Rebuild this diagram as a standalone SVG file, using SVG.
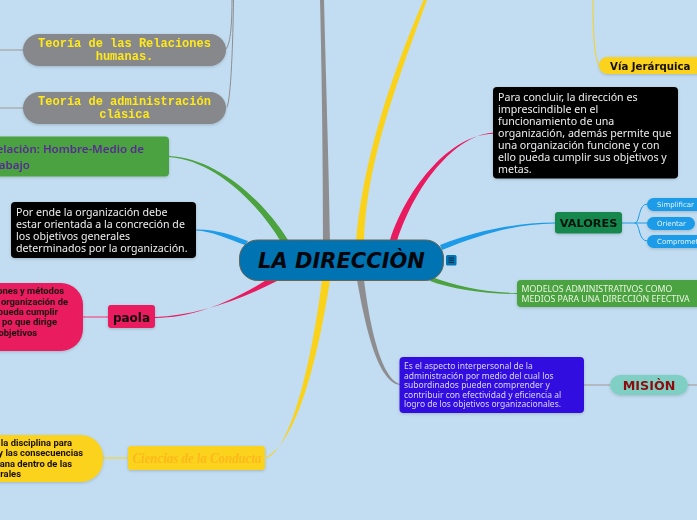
<svg xmlns="http://www.w3.org/2000/svg" width="697" height="520" viewBox="0 0 697 520">
<defs>
<filter id="sh" x="-10%" y="-20%" width="120%" height="150%"><feDropShadow dx="0" dy="1" stdDeviation="1.5" flood-color="#000" flood-opacity="0.18"/></filter>
</defs>
<style>
text{font-family:"Noto Sans","DejaVu Sans",sans-serif}
.n{filter:url(#sh)}
.mono{font-family:"Liberation Mono",monospace;font-weight:700;font-size:12px;fill:#FFE81A;text-anchor:middle}
.blk{font-size:10.630px;fill:#EDEDED}
.arial{font-family:Roboto,"Liberation Sans",sans-serif;font-weight:700;font-size:9.400px;fill:#1A1010}
.dj{font-family:"DejaVu Sans",sans-serif;font-weight:700}
.sub{font-family:"DejaVu Sans",sans-serif;font-size:7px;fill:#E8F4FC}
.grn{font-size:8.750px;fill:#E8F5E2}
.pur{font-size:8.500px;fill:#DCD6FA}
.thin{fill:none;stroke-linecap:round}
</style>
<rect width="697" height="520" fill="#C2DDF1"/>
<g id="connectors">
<path d="M320 0L324 0C326 80 329 170 330 241L323 241C323 170 322 80 320 0Z" fill="#8E8E90"/>
<path d="M169 156C215 158 262 198 288 240L281 242C258 203 214 160 169 157Z" fill="#4BA23F"/>
<path d="M196 229.500C215 229 232 235 248 241L245 245C228 239 212 231 196 230.500Z" fill="#1D9BE8"/>
<path d="M427 0C390 100 366 170 364 241L356 241C362 170 385 90 423.500 0Z" fill="#FBD21A"/>
<path d="M493 132.700C455 135 415 185 397 241L390 240C408 185 452 134 493 133.700Z" fill="#E91B60"/>
<path d="M440 245C480 230 515 223 555 222.500L555 223.500C515 224 482 234 442 250Z" fill="#1D9BE8"/>
<path d="M432 277C455 286 485 292.500 517 293L517 294C485 294 452 289 430 281Z" fill="#4BA23F"/>
<path d="M357 280L364 280C369 320 380 378 400 384L400 385C378 382 366 330 357 280Z" fill="#8E8E90"/>
<path d="M322 280L330 280C320 345 300 440 266 457.500L266 458.500C294 448 314 345 322 280Z" fill="#FBD21A"/>
<path d="M268 279L277 281C240 300 195 316 155 317L155 318C192 318 232 302 268 279Z" fill="#E91B60"/>
<path class="thin" d="M83 317H108" stroke="#E085AE" stroke-width="2"/>
<path class="thin" d="M103 458H128" stroke="#FBD21A" stroke-width="1"/>
<path class="thin" d="M226 49C231 44 232 20 232 0" stroke="#8E8E90" stroke-width="1"/>
<path class="thin" d="M227 107C231 100 233 40 233.500 0" stroke="#8E8E90" stroke-width="1"/>
<path class="thin" d="M0 50H23M0 108H23" stroke="#A9AEB2" stroke-width="1.500"/>
<path class="thin" d="M593 0C593 30 594 58 599 65" stroke="#FBD21A" stroke-width="1"/>
<path class="thin" d="M622 223H635M647 204C638 204 640 223 635 223C640 223 638 241 647 241M635 223H647" stroke="#1D9BE8" stroke-width="1"/>
<path class="thin" d="M584 385H610M688 385H697" stroke="#A9AEB2" stroke-width="1.500"/>
</g>
<g id="node-relaciones" class="n"><rect x="23" y="34" width="203" height="32" rx="16" fill="#87888C"/><text class="mono" x="124.500" y="47">Teoría de las Relaciones</text><text class="mono" x="124.500" y="60">humanas.</text></g>
<g id="node-clasica" class="n"><rect x="23" y="92" width="203" height="32" rx="16" fill="#87888C"/><text class="mono" x="124.500" y="105">Teoría de administración</text><text class="mono" x="124.500" y="118">clásica</text></g>
<g id="node-relacion" class="n"><rect x="-20" y="136.500" width="189" height="40" rx="4" fill="#4BA23F"/><text x="144" y="153" text-anchor="end" font-size="11.500" font-weight="600" fill="#5A2A96">Relaciòn: Hombre-Medio de</text><text x="-12" y="169" font-size="11.500" font-weight="600" fill="#5A2A96">Trabajo</text></g>
<g id="node-orientada" class="n"><rect x="11" y="202" width="185" height="56" rx="4" fill="#040406"/><text class="blk" x="16" y="216">Por ende la organización debe</text><text class="blk" x="16" y="228">estar orientada a la concreción de</text><text class="blk" x="16" y="240">los objetivos generales</text><text class="blk" x="16" y="252">determinados por la organización.</text></g>
<g id="node-metodos" class="n"><rect x="-60" y="283" width="143" height="68" rx="22" fill="#E91B60"/><text class="arial" text-anchor="end" x="64" y="294">ones y métodos</text><text class="arial" text-anchor="end" x="68" y="304.500">organización de</text><text class="arial" text-anchor="end" x="58" y="315">pueda cumplir</text><text class="arial" text-anchor="end" x="57" y="325">po que dirige</text><text class="arial" text-anchor="end" x="37" y="336">objetivos</text></g>
<g id="node-paola" class="n"><rect x="108" y="305" width="47" height="23" rx="3" fill="#E91B60"/><text class="dj" x="131.500" y="322" text-anchor="middle" font-size="12" fill="#14060C">paola</text></g>
<g id="node-disciplina" class="n"><rect x="-60" y="435" width="163" height="47" rx="22" fill="#FBD21A"/><text class="arial" text-anchor="end" x="72" y="446">la disciplina para</text><text class="arial" text-anchor="end" x="83" y="456">y las consecuencias</text><text class="arial" text-anchor="end" x="72" y="467">ana dentro de las</text><text class="arial" text-anchor="end" x="21" y="477">rales</text></g>
<g id="node-ciencias" class="n"><rect x="128" y="446" width="137" height="24" rx="3" fill="#FBD21A"/><text x="197" y="463" text-anchor="middle" textLength="129" lengthAdjust="spacingAndGlyphs" style="font-family:'Liberation Serif',serif;font-style:italic;font-weight:700;font-size:14px" fill="#FFB81E">Ciencias de la Conducta</text></g>
<g id="node-via" class="n"><rect x="599" y="57" width="110" height="17" rx="8.500" fill="#FBD21A"/><text class="dj" x="610" y="70" font-size="10.200" fill="#14100A">Vía Jerárquica</text></g>
<g id="node-concluir" class="n"><rect x="493" y="87" width="185" height="91.500" rx="4" fill="#040406"/><text class="blk" x="498" y="101">Para concluir, la dirección es</text><text class="blk" x="498" y="113">imprescindible en el</text><text class="blk" x="498" y="125">funcionamiento de una</text><text class="blk" x="498" y="137">organización, además permite que</text><text class="blk" x="498" y="149">una organización funcione y con</text><text class="blk" x="498" y="161">ello pueda cumplir sus objetivos y</text><text class="blk" x="498" y="173">metas.</text></g>
<g id="node-valores" class="n"><rect x="555" y="212" width="67" height="21.500" rx="3" fill="#14874E"/><text class="dj" x="588.500" y="227" text-anchor="middle" font-size="11.300" fill="#06120C">VALORES</text></g>
<g id="node-simplificar" class="n"><rect x="647" y="198" width="62" height="13" rx="6.500" fill="#1D9BE8"/><text class="sub" x="657" y="207">Simplificar</text></g>
<g id="node-orientar" class="n"><rect x="647" y="217" width="48" height="13" rx="6.500" fill="#1D9BE8"/><text class="sub" x="657" y="226">Orientar</text></g>
<g id="node-comprometer" class="n"><rect x="647" y="235" width="62" height="13" rx="6.500" fill="#1D9BE8"/><text class="sub" x="657" y="244">Compromet</text></g>
<g id="node-modelos" class="n"><rect x="517" y="280" width="190" height="27" rx="4" fill="#4BA23F"/><text class="grn" x="521.500" y="292">MODELOS ADMINISTRATIVOS COMO</text><text class="grn" x="521.500" y="302">MEDIOS PARA UNA DIRECCIÓN EFECTIVA</text></g>
<g id="node-aspecto" class="n"><rect x="399.500" y="357" width="184.500" height="56" rx="4" fill="#3110E0"/><text class="pur" x="404" y="369">Es el aspecto interpersonal de la</text><text class="pur" x="404" y="378.500">administración por medio del cual los</text><text class="pur" x="404" y="388">subordinados pueden comprender y</text><text class="pur" x="404" y="397.500">contribuir con efectividad y eficiencia al</text><text class="pur" x="404" y="407">logro de los objetivos organizacionales.</text></g>
<g id="node-mision" class="n"><rect x="610" y="375" width="78" height="20" rx="10" fill="#80CFC4"/><text class="dj" x="649" y="390" text-anchor="middle" font-size="12.700" fill="#8B1010">MISIÒN</text></g>
<g id="node-central"><rect x="239.500" y="240" width="204" height="40.500" rx="18" fill="#0073B3" stroke="#6B6350" stroke-width="1"/><text class="dj" x="341.500" y="268" text-anchor="middle" font-size="21" font-style="italic" fill="#04060C">LA DIRECCIÒN</text><rect x="446" y="255" width="10.500" height="10.500" rx="1.500" fill="#0073B3"/><path d="M448.500 258H454M448.500 260.200H454M448.500 262.400H454" stroke="#04263C" stroke-width="1" fill="none"/></g>
</svg>
